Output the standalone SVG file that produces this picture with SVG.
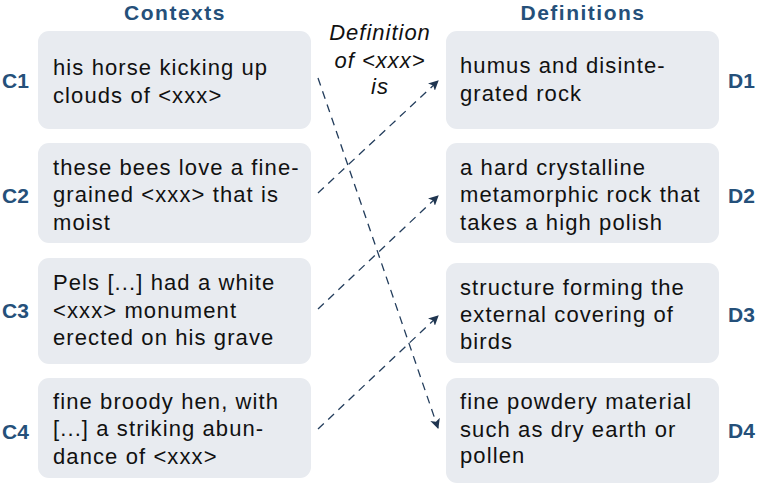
<svg xmlns="http://www.w3.org/2000/svg" width="759" height="486" viewBox="0 0 759 486">
<defs>
<style>
.box{fill:#e8ebf0}
.t{font-family:"Liberation Sans",Arial,sans-serif;font-size:22px;letter-spacing:1.1px;fill:#111}
.lab{font-family:"Liberation Sans",Arial,sans-serif;font-size:21px;font-weight:bold;fill:#25507a}
.hd{font-family:"Liberation Sans",Arial,sans-serif;font-size:21px;font-weight:bold;letter-spacing:1.5px;fill:#25507a;text-anchor:middle}
.mid{font-family:"Liberation Sans",Arial,sans-serif;font-size:22px;font-style:italic;letter-spacing:1px;fill:#111;text-anchor:middle}
.ed{fill:none;stroke:#233d5c;stroke-width:1.3;stroke-dasharray:8,6;marker-end:url(#ah)}
</style>
<marker id="ah" viewBox="0 0 10 10" refX="9" refY="5" markerWidth="10" markerHeight="10" markerUnits="userSpaceOnUse" orient="auto">
<path d="M0,0 L10,5 L0,10 L2.5,5 z" fill="#1f3550"/>
</marker>
</defs>
<rect width="759" height="486" fill="#fff"/>
<text class="hd" x="175" y="20">Contexts</text>
<text class="hd" x="583" y="20">Definitions</text>
<g id="caption">
<text class="mid" x="380" y="40">Definition</text>
<text class="mid" x="380" y="68">of &lt;xxx&gt;</text>
<text class="mid" x="380" y="94">is</text>
</g>
<g id="C1">
<rect class="box" x="38" y="31" width="273" height="98" rx="11"/>
<text class="lab" x="2" y="88">C1</text>
<text class="t" x="53" y="75">his horse kicking up</text>
<text class="t" x="53" y="103">clouds of &lt;xxx&gt;</text>
</g>
<g id="C2">
<rect class="box" x="38" y="143" width="273" height="100" rx="11"/>
<text class="lab" x="2" y="203">C2</text>
<text class="t" x="53" y="175">these bees love a fine-</text>
<text class="t" x="53" y="202">grained &lt;xxx&gt; that is</text>
<text class="t" x="53" y="230">moist</text>
</g>
<g id="C3">
<rect class="box" x="38" y="258" width="273" height="106" rx="11"/>
<text class="lab" x="2" y="318">C3</text>
<text class="t" x="53" y="290">Pels [...] had a white</text>
<text class="t" x="53" y="318">&lt;xxx&gt; monument</text>
<text class="t" x="53" y="345">erected on his grave</text>
</g>
<g id="C4">
<rect class="box" x="38" y="378" width="273" height="100" rx="11"/>
<text class="lab" x="2" y="439">C4</text>
<text class="t" x="53" y="409">fine broody hen, with</text>
<text class="t" x="53" y="436">[...] a striking abun-</text>
<text class="t" x="53" y="464">dance of &lt;xxx&gt;</text>
</g>
<g id="D1">
<rect class="box" x="446" y="31" width="273" height="98" rx="11"/>
<text class="lab" x="728" y="88">D1</text>
<text class="t" x="460" y="73">humus and disinte-</text>
<text class="t" x="460" y="101">grated rock</text>
</g>
<g id="D2">
<rect class="box" x="446" y="143" width="273" height="100" rx="11"/>
<text class="lab" x="728" y="203">D2</text>
<text class="t" x="460" y="175">a hard crystalline</text>
<text class="t" x="460" y="202">metamorphic rock that</text>
<text class="t" x="460" y="230">takes a high polish</text>
</g>
<g id="D3">
<rect class="box" x="446" y="263" width="273" height="100" rx="11"/>
<text class="lab" x="728" y="322">D3</text>
<text class="t" x="460" y="295">structure forming the</text>
<text class="t" x="460" y="322">external covering of</text>
<text class="t" x="460" y="349">birds</text>
</g>
<g id="D4">
<rect class="box" x="446" y="378" width="273" height="105" rx="11"/>
<text class="lab" x="728" y="438">D4</text>
<text class="t" x="460" y="409">fine powdery material</text>
<text class="t" x="460" y="437">such as dry earth or</text>
<text class="t" x="460" y="463">pollen</text>
</g>
<g id="connectors">
<line class="ed" x1="318" y1="78" x2="438" y2="428"/>
<line class="ed" x1="318" y1="193" x2="438" y2="81"/>
<line class="ed" x1="318" y1="309" x2="438" y2="196"/>
<line class="ed" x1="318" y1="429" x2="438" y2="316"/>
</g>
</svg>
